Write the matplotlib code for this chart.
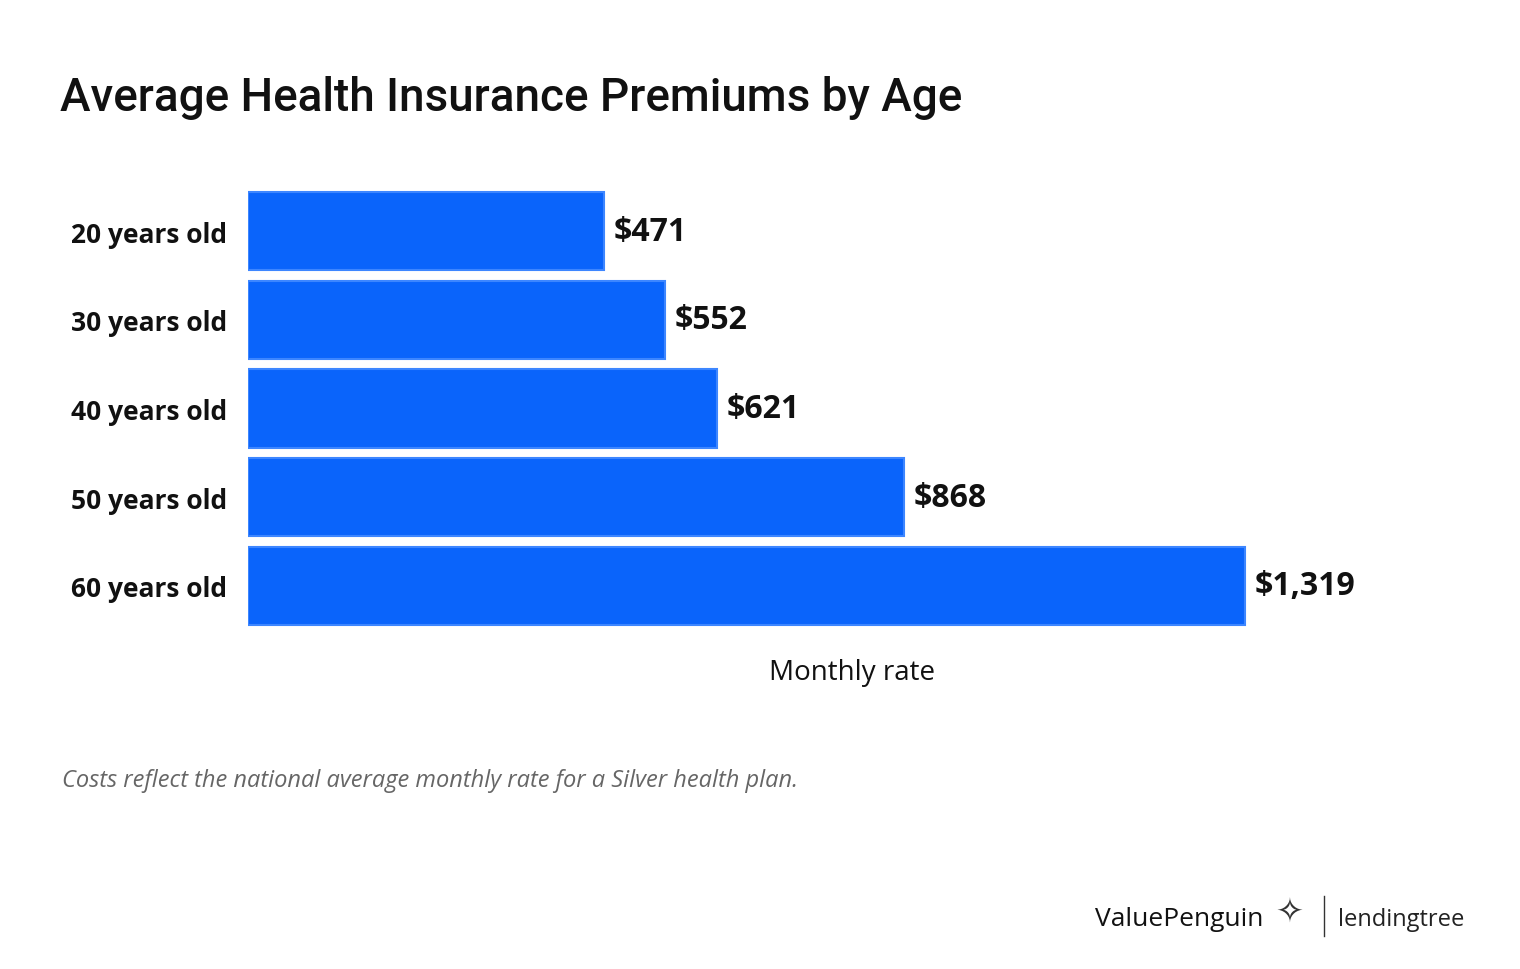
import matplotlib.pyplot as plt

ages = ["20 years old", "30 years old", "40 years old", "50 years old", "60 years old"]
premiums = [471, 552, 621, 868, 1319]
value_labels = ["$471", "$552", "$621", "$868", "$1,319"]

W, H = 1520, 970
fig = plt.figure(figsize=(W / 100, H / 100), dpi=100)
plt.rcParams['font.family'] = ['Open Sans', 'DejaVu Sans']

ax = fig.add_axes([248 / W, 1 - 631.25 / H, (1400 - 248) / W, 443.5 / H])
ypos = list(range(len(ages)))
ax.barh(ypos, premiums, height=0.88, color="#0a64fb", edgecolor="#3d86ff", linewidth=1.5)
ax.set_ylim(len(ages) - 0.5, -0.5)
ax.set_xlim(0, (1400 - 248) / 0.756)
for y, v, lab in zip(ypos, premiums, value_labels):
    ax.text(v + 12, y, lab, va="center", ha="left", fontsize=23, fontweight="bold", color="#111111")
ax.set_yticks(ypos)
ax.set_yticklabels(ages, fontsize=19, fontweight="bold", color="#111111")
ax.tick_params(axis="y", length=0, pad=15)
ax.set_xticks([])
for s in ax.spines.values():
    s.set_visible(False)

fig.text(60 / W, 1 - 98 / H, "Average Health Insurance Premiums by Age", fontsize=33,
         fontweight="medium", color="#111111", va="center", family=['Roboto', 'DejaVu Sans'])
fig.text(852 / W, 1 - 673 / H, "Monthly rate", fontsize=20, color="#111111", ha="center", va="center")
fig.text(62 / W, 1 - 781 / H, "Costs reflect the national average monthly rate for a Silver health plan.",
         fontsize=17, style="italic", color="#666666", va="center")
fig.text(1263 / W, 1 - 920 / H, "ValuePenguin", fontsize=19, color="#111111", ha="right", va="center")
fig.text(1290 / W, 1 - 913 / H, "\u2727", fontsize=24, color="#333333", ha="center", va="center",
         family=['DejaVu Sans'])
fig.add_artist(plt.Line2D([1324 / W, 1324 / W], [1 - 897 / H, 1 - 937 / H], color="#333333", lw=1))
fig.text(1338 / W, 1 - 920 / H, "lendingtree", fontsize=17, color="#222222", ha="left", va="center")

fig.savefig("out.png", dpi=100, facecolor="white")
